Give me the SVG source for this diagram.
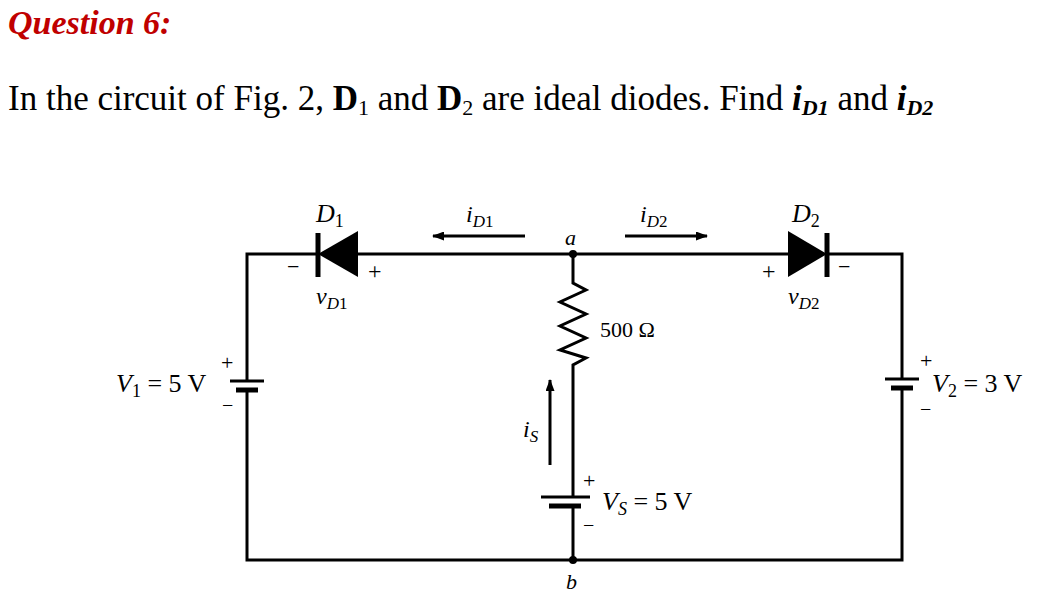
<svg xmlns="http://www.w3.org/2000/svg" width="1048" height="600" viewBox="0 0 1048 600">
<style>
.w{stroke:#000;stroke-width:3;fill:none}
.t{font-family:"Liberation Serif",serif;fill:#000}
.i{font-style:italic}
.q{font-family:"Liberation Serif",serif;font-size:34px;fill:#c00000;font-weight:bold;font-style:italic}
.p{font-family:"Liberation Serif",serif;font-size:35px;fill:#000}
</style>
<defs><marker id="ah" markerWidth="12" markerHeight="9" refX="11" refY="4.5" orient="auto" markerUnits="userSpaceOnUse"><path d="M0,0 L12,4.5 L0,9 Z" fill="#000"/></marker></defs>
<rect width="1048" height="600" fill="#fff"/>
<text class="q" x="8" y="34">Question 6:</text>
<text class="p" x="8" y="110">In the circuit of Fig. 2, <tspan font-weight="bold">D</tspan><tspan font-size="22" dy="5">1</tspan><tspan dy="-5"> and </tspan><tspan font-weight="bold">D</tspan><tspan font-size="22" dy="5">2</tspan><tspan dy="-5"> are ideal diodes. Find </tspan><tspan font-weight="bold" font-style="italic">i</tspan><tspan font-weight="bold" font-style="italic" font-size="22" dy="5">D1</tspan><tspan dy="-5"> and </tspan><tspan font-weight="bold" font-style="italic">i</tspan><tspan font-weight="bold" font-style="italic" font-size="22" dy="5">D2</tspan></text>
<g id="connectors">
<path class="w" d="M318,254 H247 V381 M247,390 V560 H902 V388 M902,379 V254 H827 M358,254 H788"/>
<path class="w" d="M573,254 V283 L586,290 L560,302 L586,314 L560,326 L586,338 L560,350 L586,358 L573,365 V497 M573,507 V560"/>
<circle cx="573" cy="254" r="4"/><circle cx="573" cy="560" r="4"/>
<line x1="525" y1="236" x2="433" y2="236" stroke="#000" stroke-width="3" marker-end="url(#ah)"/>
<line x1="625" y1="236" x2="707" y2="236" stroke="#000" stroke-width="3" marker-end="url(#ah)"/>
<line x1="550" y1="465" x2="550" y2="380" stroke="#000" stroke-width="3" marker-end="url(#ah)"/>
</g>
<g id="D1"><line x1="318" y1="233" x2="318" y2="277" stroke="#000" stroke-width="5"/><path d="M318,254 L358,231 L358,277 Z" fill="#000"/>
<text class="t i" x="316" y="222" font-size="26">D<tspan font-size="18" dy="5" font-style="normal">1</tspan></text>
<text class="t" x="287" y="274" font-size="22">−</text><text class="t" x="368" y="279" font-size="24">+</text>
<text class="t i" x="316" y="304" font-size="24">v<tspan font-size="17" dy="5">D</tspan><tspan font-size="17" font-style="normal">1</tspan></text></g>
<g id="D2"><line x1="827" y1="233" x2="827" y2="277" stroke="#000" stroke-width="5"/><path d="M827,254 L788,231 L788,277 Z" fill="#000"/>
<text class="t i" x="792" y="222" font-size="26">D<tspan font-size="18" dy="5" font-style="normal">2</tspan></text>
<text class="t" x="762" y="279" font-size="24">+</text><text class="t" x="838" y="274" font-size="22">−</text>
<text class="t i" x="788" y="304" font-size="24">v<tspan font-size="17" dy="5">D</tspan><tspan font-size="17" font-style="normal">2</tspan></text></g>
<g id="labels">
<text class="t i" x="466" y="222" font-size="24">i<tspan font-size="17" dy="5">D</tspan><tspan font-size="17" font-style="normal">1</tspan></text>
<text class="t i" x="640" y="222" font-size="24">i<tspan font-size="17" dy="5">D</tspan><tspan font-size="17" font-style="normal">2</tspan></text>
<text class="t i" x="565" y="245" font-size="22">a</text>
<text class="t i" x="566" y="589" font-size="22">b</text>
<text class="t" x="600" y="337" font-size="22">500 Ω</text>
<text class="t i" x="523" y="437" font-size="24">i<tspan font-size="17" dy="5">S</tspan></text>
</g>
<g id="V1"><line x1="230" y1="381" x2="264" y2="381" stroke="#000" stroke-width="3"/><line x1="236" y1="390" x2="258" y2="390" stroke="#000" stroke-width="5"/>
<text class="t" x="221" y="370" font-size="22">+</text><text class="t" x="222" y="412" font-size="20">−</text>
<text class="t i" x="116" y="392" font-size="26">V<tspan font-size="18" dy="5" font-style="normal">1</tspan><tspan dy="-5" font-style="normal"> = 5 V</tspan></text></g>
<g id="V2"><line x1="885" y1="379" x2="919" y2="379" stroke="#000" stroke-width="3"/><line x1="891" y1="388" x2="913" y2="388" stroke="#000" stroke-width="5"/>
<text class="t" x="920" y="368" font-size="22">+</text><text class="t" x="920" y="416" font-size="20">−</text>
<text class="t i" x="932" y="392" font-size="26">V<tspan font-size="18" dy="5" font-style="normal">2</tspan><tspan dy="-5" font-style="normal"> = 3 V</tspan></text></g>
<g id="VS"><line x1="541" y1="497" x2="590" y2="497" stroke="#000" stroke-width="3"/><line x1="549" y1="506" x2="581" y2="506" stroke="#000" stroke-width="5"/>
<text class="t" x="583" y="488" font-size="22">+</text><text class="t" x="583" y="532" font-size="20">−</text>
<text class="t i" x="602" y="510" font-size="26">V<tspan font-size="18" dy="5">S</tspan><tspan dy="-5" font-style="normal"> = 5 V</tspan></text></g>
</svg>
